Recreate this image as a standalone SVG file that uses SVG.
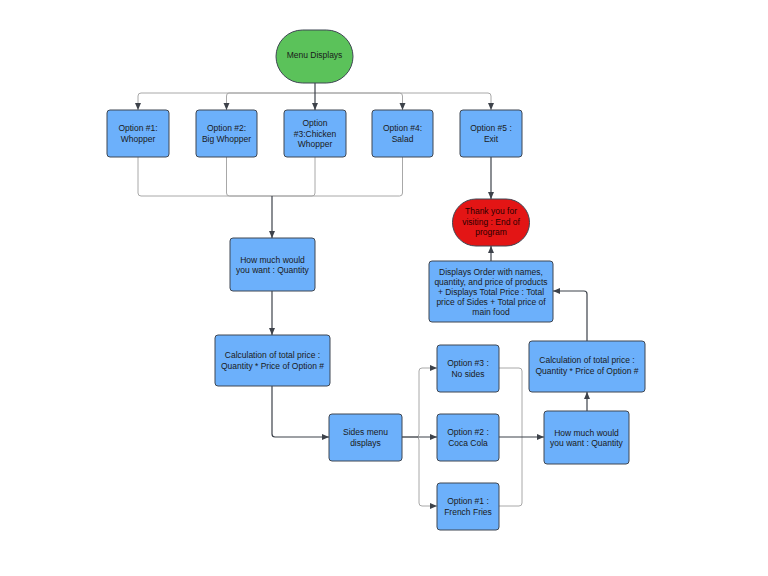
<svg xmlns="http://www.w3.org/2000/svg" width="768" height="576" viewBox="0 0 768 576">
<defs>
<style>
.box{fill:#6cb0fb;stroke:#3f4753;stroke-width:1}
.start{fill:#5bc25a;stroke:#3f4753;stroke-width:1}
.end{fill:#e31515;stroke:#3f4753;stroke-width:1}
text{font-family:"Liberation Sans",Arial,sans-serif;font-size:8.5px;fill:#1a1a1a;text-anchor:middle;dominant-baseline:central}
.dark{fill:none;stroke:#3d424a;stroke-width:1.2}
.light{fill:none;stroke:#a8a8a8;stroke-width:1}
</style>
<marker id="arr" markerUnits="userSpaceOnUse" markerWidth="8" markerHeight="8" viewBox="0 0 8 8" refX="7" refY="4" orient="auto">
<path d="M0,1 L7,4 L0,7 Z" fill="#3d424a"/>
</marker>
</defs>
<rect width="768" height="576" fill="#ffffff"/>
<g id="connectors">
<path class="light" d="M315,93 H141 Q138,93 138,96 V110" marker-end="url(#arr)"/>
<path class="light" d="M315,93 H229 Q226.5,93 226.5,96 V110" marker-end="url(#arr)"/>
<path class="light" d="M315,93 H399.5 Q402.5,93 402.5,96 V110" marker-end="url(#arr)"/>
<path class="light" d="M315,93 H488 Q491,93 491,96 V110" marker-end="url(#arr)"/>
<path class="dark" d="M315,83 V110" marker-end="url(#arr)"/>
<path class="light" d="M138,157 V193 Q138,196 141,196 H272"/>
<path class="light" d="M226.5,157 V193 Q226.5,196 229.5,196 H272"/>
<path class="light" d="M315,157 V193 Q315,196 312,196 H272"/>
<path class="light" d="M402.5,157 V193 Q402.5,196 399.5,196 H272"/>
<path class="dark" d="M272,196 V238" marker-end="url(#arr)"/>
<path class="dark" d="M491,157 V199" marker-end="url(#arr)"/>
<path class="dark" d="M272,291 V335" marker-end="url(#arr)"/>
<path class="dark" d="M272,386 V434 Q272,437 275,437 H329" marker-end="url(#arr)"/>
<path class="light" d="M402,437 H416 Q419,437 419,434 V371 Q419,368 422,368 H437" marker-end="url(#arr)"/>
<path class="light" d="M402,437 H416 Q419,437 419,440 V503 Q419,506 422,506 H437" marker-end="url(#arr)"/>
<path class="dark" d="M402,437 H437" marker-end="url(#arr)"/>
<path class="light" d="M499,368 H519 Q522,368 522,371 V437"/>
<path class="light" d="M499,506 H519 Q522,506 522,503 V437"/>
<path class="dark" d="M499,437 H544" marker-end="url(#arr)"/>
<path class="dark" d="M587,411 V392" marker-end="url(#arr)"/>
<path class="dark" d="M587,341 V294 Q587,291 584,291 H553" marker-end="url(#arr)"/>
<path class="dark" d="M491,261 V246" marker-end="url(#arr)"/>
</g>
<g id="menu-displays">
<rect class="start" x="276" y="30" width="77" height="53" rx="26.5"/>
<text x="314.5" y="54.5">Menu Displays</text>
</g>
<g id="option1">
<rect class="box" x="107" y="110" width="62" height="47" rx="3"/>
<text x="138" y="128">Option #1:</text>
<text x="138" y="138.5">Whopper</text>
</g>
<g id="option2">
<rect class="box" x="196" y="110" width="61" height="47" rx="3"/>
<text x="226.5" y="128">Option #2:</text>
<text x="226.5" y="138.5">Big Whopper</text>
</g>
<g id="option3">
<rect class="box" x="284" y="110" width="62" height="47" rx="3"/>
<text x="315" y="123">Option</text>
<text x="315" y="133.5">#3:Chicken</text>
<text x="315" y="144">Whopper</text>
</g>
<g id="option4">
<rect class="box" x="372" y="110" width="61" height="47" rx="3"/>
<text x="402.5" y="128">Option #4:</text>
<text x="402.5" y="138.5">Salad</text>
</g>
<g id="option5">
<rect class="box" x="460" y="110" width="62" height="47" rx="3"/>
<text x="491" y="128">Option #5 :</text>
<text x="491" y="138.5">Exit</text>
</g>
<g id="end-program">
<rect class="end" x="452.5" y="199" width="77" height="47" rx="23.5"/>
<text x="491" y="211" style="fill:#2a0000">Thank you for</text>
<text x="491" y="221.5" style="fill:#2a0000">visiting : End of</text>
<text x="491" y="232" style="fill:#2a0000">program</text>
</g>
<g id="how-much-1">
<rect class="box" x="230" y="238" width="85" height="53" rx="3"/>
<text x="272.5" y="259.5">How much would</text>
<text x="272.5" y="270">you want : Quantity</text>
</g>
<g id="display-order">
<rect class="box" x="429" y="261" width="124" height="61" rx="3"/>
<text x="491" y="271.5">Displays Order with names,</text>
<text x="491" y="281.7">quantity, and price of products</text>
<text x="491" y="291.9">+ Displays Total Price : Total</text>
<text x="491" y="302.1">price of Sides + Total price of</text>
<text x="491" y="312.3">main food</text>
</g>
<g id="calc-1">
<rect class="box" x="215" y="335" width="115" height="51" rx="3"/>
<text x="272.5" y="355">Calculation of total price :</text>
<text x="272.5" y="365.5">Quantity * Price of Option #</text>
</g>
<g id="calc-2">
<rect class="box" x="529" y="341" width="116" height="51" rx="3"/>
<text x="587" y="360">Calculation of total price :</text>
<text x="587" y="370.5">Quantity * Price of Option #</text>
</g>
<g id="side-option3">
<rect class="box" x="437" y="345" width="62" height="47" rx="3"/>
<text x="468" y="363">Option #3 :</text>
<text x="468" y="373.5">No sides</text>
</g>
<g id="sides-menu">
<rect class="box" x="329" y="414" width="73" height="47" rx="3"/>
<text x="365.5" y="432">Sides menu</text>
<text x="365.5" y="442.5">displays</text>
</g>
<g id="side-option2">
<rect class="box" x="437" y="414" width="62" height="47" rx="3"/>
<text x="468" y="432">Option #2 :</text>
<text x="468" y="442.5">Coca Cola</text>
</g>
<g id="how-much-2">
<rect class="box" x="544" y="411" width="85" height="53" rx="3"/>
<text x="586.5" y="432.5">How much would</text>
<text x="586.5" y="443">you want : Quantity</text>
</g>
<g id="side-option1">
<rect class="box" x="437" y="483" width="62" height="47" rx="3"/>
<text x="468" y="501">Option #1 :</text>
<text x="468" y="511.5">French Fries</text>
</g>
</svg>
